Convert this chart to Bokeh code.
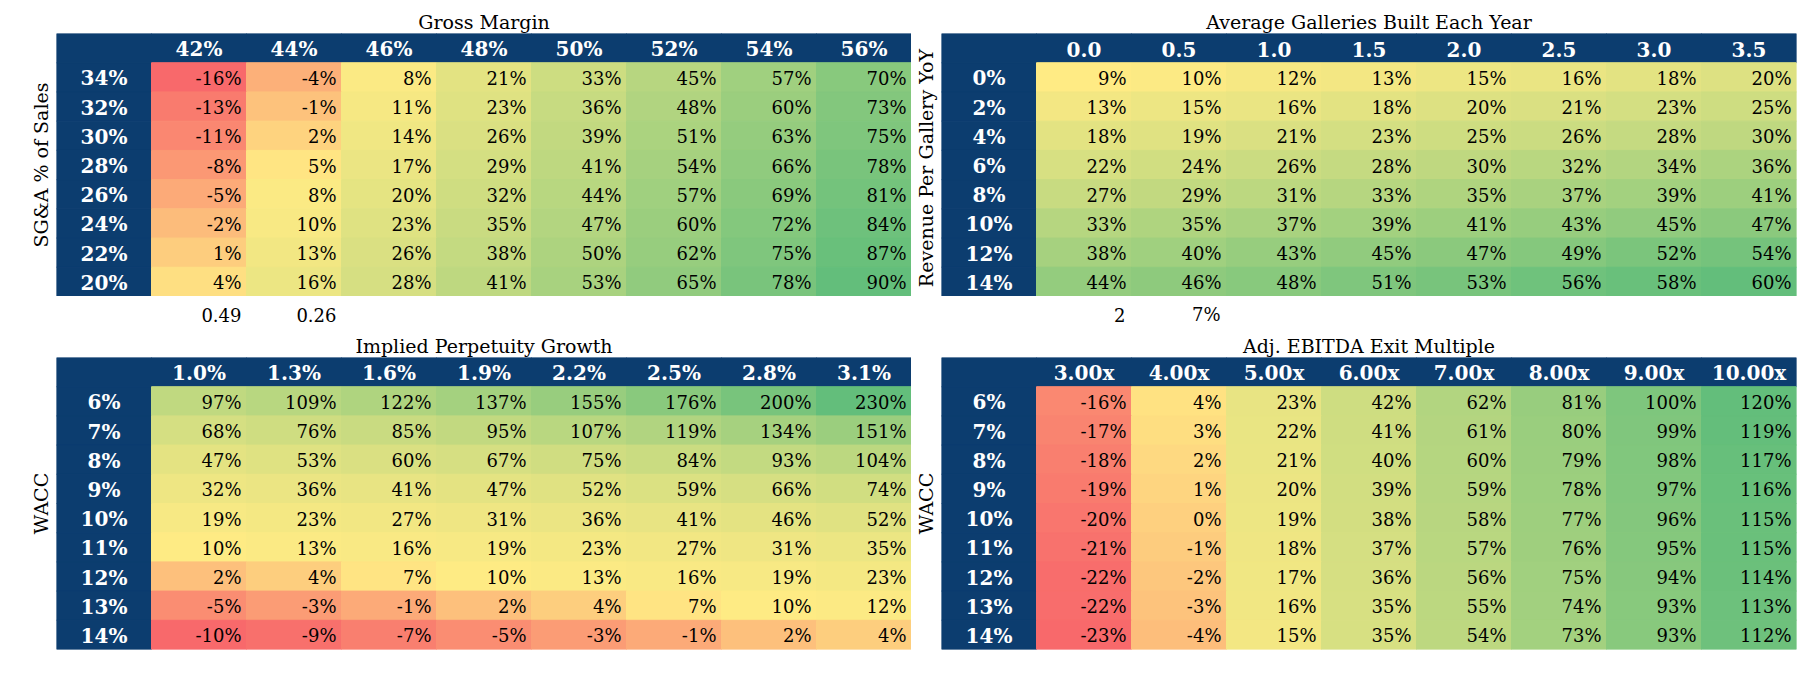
from bokeh.plotting import figure
from bokeh.models import Range1d, ColumnDataSource, FixedTicker, LinearAxis
from bokeh.layouts import column, row
from bokeh.embed import file_html
from bokeh.resources import INLINE
from bokeh.core.properties import value

# ---------------- data ----------------
gm_title = "Gross Margin"
gm_ylabel = "SG&A % of Sales"
gm_cols = ["42%", "44%", "46%", "48%", "50%", "52%", "54%", "56%"]
gm_rows = ["34%", "32%", "30%", "28%", "26%", "24%", "22%", "20%"]
gm_vals = [
    [-16, -4, 8, 21, 33, 45, 57, 70],
    [-13, -1, 11, 23, 36, 48, 60, 73],
    [-11, 2, 14, 26, 39, 51, 63, 75],
    [-8, 5, 17, 29, 41, 54, 66, 78],
    [-5, 8, 20, 32, 44, 57, 69, 81],
    [-2, 10, 23, 35, 47, 60, 72, 84],
    [1, 13, 26, 38, 50, 62, 75, 87],
    [4, 16, 28, 41, 53, 65, 78, 90],
]
gm_notes = ["0.49", "0.26"]

ag_title = "Average Galleries Built Each Year"
ag_ylabel = "Revenue  Per Gallery YoY"
ag_cols = ["0.0", "0.5", "1.0", "1.5", "2.0", "2.5", "3.0", "3.5"]
ag_rows = ["0%", "2%", "4%", "6%", "8%", "10%", "12%", "14%"]
ag_vals = [
    [9, 10, 12, 13, 15, 16, 18, 20],
    [13, 15, 16, 18, 20, 21, 23, 25],
    [18, 19, 21, 23, 25, 26, 28, 30],
    [22, 24, 26, 28, 30, 32, 34, 36],
    [27, 29, 31, 33, 35, 37, 39, 41],
    [33, 35, 37, 39, 41, 43, 45, 47],
    [38, 40, 43, 45, 47, 49, 52, 54],
    [44, 46, 48, 51, 53, 56, 58, 60],
]
ag_notes = ["2", "7%"]

pg_title = "Implied Perpetuity Growth"
pg_ylabel = "WACC"
pg_cols = ["1.0%", "1.3%", "1.6%", "1.9%", "2.2%", "2.5%", "2.8%", "3.1%"]
pg_rows = ["6%", "7%", "8%", "9%", "10%", "11%", "12%", "13%", "14%"]
pg_vals = [
    [97, 109, 122, 137, 155, 176, 200, 230],
    [68, 76, 85, 95, 107, 119, 134, 151],
    [47, 53, 60, 67, 75, 84, 93, 104],
    [32, 36, 41, 47, 52, 59, 66, 74],
    [19, 23, 27, 31, 36, 41, 46, 52],
    [10, 13, 16, 19, 23, 27, 31, 35],
    [2, 4, 7, 10, 13, 16, 19, 23],
    [-5, -3, -1, 2, 4, 7, 10, 12],
    [-10, -9, -7, -5, -3, -1, 2, 4],
]

em_title = "Adj. EBITDA Exit Multiple"
em_ylabel = "WACC"
em_cols = ["3.00x", "4.00x", "5.00x", "6.00x", "7.00x", "8.00x", "9.00x", "10.00x"]
em_rows = ["6%", "7%", "8%", "9%", "10%", "11%", "12%", "13%", "14%"]
em_vals = [
    [-16, 4, 23, 42, 62, 81, 100, 120],
    [-17, 3, 22, 41, 61, 80, 99, 119],
    [-18, 2, 21, 40, 60, 79, 98, 117],
    [-19, 1, 20, 39, 59, 78, 97, 116],
    [-20, 0, 19, 38, 58, 77, 96, 115],
    [-21, -1, 18, 37, 57, 76, 95, 115],
    [-22, -2, 17, 36, 56, 75, 94, 114],
    [-22, -3, 16, 35, 55, 74, 93, 113],
    [-23, -4, 15, 35, 54, 73, 93, 112],
]

# ---------------- style ----------------
FONT = "DejaVu Serif"
NAVY = "#0C3D6F"
RED = (248, 105, 107)
YEL = (255, 235, 132)
GRN = (99, 190, 123)
COL_W = 95
ROW_H = 29.2


def lerp(a, b, t):
    return tuple(int(round(a[k] + (b[k] - a[k]) * t)) for k in range(3))


def scale_color(v, lo, mid, hi):
    if v <= mid:
        t = 1.0 if mid <= lo else max(0.0, (v - lo) / (mid - lo))
        c = lerp(RED, YEL, t)
    else:
        t = min(1.0, (v - mid) / (hi - mid))
        c = lerp(YEL, GRN, t)
    return "#%02x%02x%02x" % c


def make_table(title, ylabel, cols, rows, vals, mid, bl, br, bt, bb):
    n = len(rows)
    m = len(cols)
    flat = [v for r in vals for v in r]
    lo, hi = min(flat), max(flat)
    p = figure(frame_width=int(COL_W * (m + 1)), frame_height=int(round(ROW_H * (n + 1))),
               x_range=Range1d(-1, m), y_range=Range1d(n, -1),
               x_axis_type=None, y_axis_type=None,
               output_backend="svg", toolbar_location=None,
               min_border_left=bl, min_border_right=br,
               min_border_top=bt, min_border_bottom=bb, title=title)
    p.outline_line_color = None
    p.background_fill_color = "white"
    p.border_fill_color = "white"
    p.title.align = "center"
    p.title.text_font = FONT
    p.title.text_font_size = "19px"
    p.title.text_font_style = "normal"
    p.title.text_color = "black"
    p.title.standoff = 2

    ax = LinearAxis(ticker=FixedTicker(ticks=[]), axis_label=ylabel,
                    axis_line_color=None, major_tick_line_color=None,
                    minor_tick_line_color=None, major_tick_out=0, major_tick_in=0,
                    major_label_text_font_size="0px", major_label_standoff=0,
                    axis_label_standoff=5, axis_label_text_font=FONT,
                    axis_label_text_font_size="19px", axis_label_text_font_style="normal",
                    axis_label_text_color="black")
    p.add_layout(ax, "left")

    # navy header row and label column
    hx = ColumnDataSource(dict(left=[-1 + k for k in range(m + 1)], right=[k for k in range(m + 1)],
                               top=[-1] * (m + 1), bottom=[0] * (m + 1)))
    p.quad(left="left", right="right", top="top", bottom="bottom", source=hx,
           fill_color=NAVY, line_color=NAVY)
    hy = ColumnDataSource(dict(left=[-1] * n, right=[0] * n,
                               top=list(range(n)), bottom=[i + 1 for i in range(n)]))
    p.quad(left="left", right="right", top="top", bottom="bottom", source=hy,
           fill_color=NAVY, line_color=NAVY)

    # data cells
    L, R, T, B, C, X, Y, TX = [], [], [], [], [], [], [], []
    for i in range(n):
        for j in range(m):
            v = vals[i][j]
            col = scale_color(v, lo, mid, hi)
            L.append(j); R.append(j + 1); T.append(i); B.append(i + 1); C.append(col)
            X.append(j + 1); Y.append(i + 0.5); TX.append(f"{v}%")
    src = ColumnDataSource(dict(left=L, right=R, top=T, bottom=B, color=C, x=X, y=Y, text=TX))
    p.quad(left="left", right="right", top="top", bottom="bottom", source=src,
           fill_color="color", line_color="color", line_width=1)
    p.text(x="x", y="y", text="text", source=src, x_offset=-5, y_offset=1,
           text_align="right", text_baseline="middle", text_font=value(FONT),
           text_font_size="18px", text_color="black")

    # header labels
    hs = ColumnDataSource(dict(x=[j + 0.5 for j in range(m)], y=[-0.5] * m, text=cols))
    p.text(x="x", y="y", text="text", source=hs, text_align="center", text_baseline="middle",
           y_offset=1, text_font=value(FONT), text_font_size="20px",
           text_font_style="bold", text_color="white")
    rs = ColumnDataSource(dict(x=[-0.5] * n, y=[i + 0.5 for i in range(n)], text=rows))
    p.text(x="x", y="y", text="text", source=rs, text_align="center", text_baseline="middle",
           y_offset=1, text_font=value(FONT), text_font_size="20px",
           text_font_style="bold", text_color="white")
    return p


def make_notes(notes, m, bl, br, h):
    p = figure(frame_width=int(COL_W * (m + 1)), frame_height=h,
               x_range=Range1d(-1, m), y_range=Range1d(1, 0),
               x_axis_type=None, y_axis_type=None,
               output_backend="svg", toolbar_location=None,
               min_border_left=bl, min_border_right=br,
               min_border_top=0, min_border_bottom=0)
    p.outline_line_color = None
    src = ColumnDataSource(dict(x=[j + 1 for j in range(len(notes))],
                                y=[0.6] * len(notes), text=notes))
    p.text(x="x", y="y", text="text", source=src, x_offset=-5, text_align="right",
           text_baseline="middle", text_font=value(FONT), text_font_size="18px",
           text_color="black")
    return p


p1 = make_table(gm_title, gm_ylabel, gm_cols, gm_rows, gm_vals, 6, 56, 0, 33, 0)
p2 = make_table(ag_title, ag_ylabel, ag_cols, ag_rows, ag_vals, 9, 29, 7, 33, 0)
n1 = make_notes(gm_notes, len(gm_cols), 56, 0, 30)
n2 = make_notes(ag_notes, len(ag_cols), 29, 7, 30)
p3 = make_table(pg_title, pg_ylabel, pg_cols, pg_rows, pg_vals, 8, 56, 0, 31, 10)
p4 = make_table(em_title, em_ylabel, em_cols, em_rows, em_vals, 6, 29, 7, 31, 10)

lay = column(row(p1, p2), row(n1, n2), row(p3, p4))
open("out.html", "w").write(file_html(lay, INLINE))
